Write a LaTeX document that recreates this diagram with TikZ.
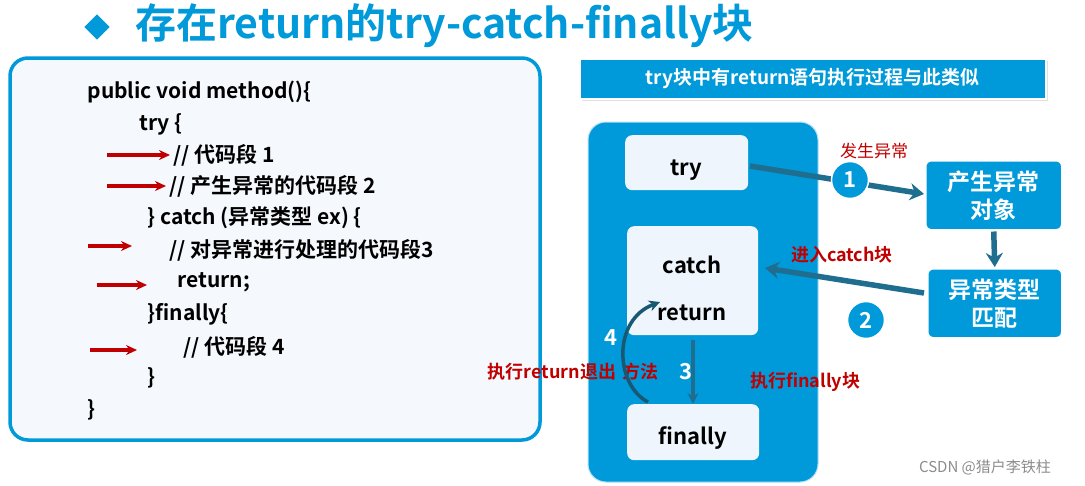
\documentclass[tikz,border=0pt]{standalone}
\usepackage{fontspec}
\setmainfont{Noto Sans CJK SC}[BoldFont={* Bold}]
\usetikzlibrary{arrows.meta}
\definecolor{bl}{HTML}{0099D9}
\definecolor{lb}{HTML}{EEF5FC}
\definecolor{dk}{HTML}{1F6E8F}
\definecolor{rd}{HTML}{C00000}
\begin{document}
\begin{tikzpicture}[x=1pt,y=-1pt,font=\bfseries,
 code/.style={anchor=west,font=\fontsize{21}{21}\selectfont\bfseries},
 rarr/.style={rd,line width=3.2pt,-{Stealth[length=11pt,width=10pt]}},
 inbox/.style={fill=lb,rounded corners=7pt,font=\fontsize{22}{22}\selectfont\bfseries},
 bbox/.style={fill=bl,draw=white,line width=2.5pt,rounded corners=6pt,text=white,align=center,font=\fontsize{23}{28}\selectfont\bfseries},
 num/.style={circle,fill=bl,draw=white,line width=1.5pt,text=white,minimum size=37pt,inner sep=0pt,font=\fontsize{22}{22}\selectfont\bfseries},
 rlab/.style={text=rd,font=\fontsize{18}{18}\selectfont\bfseries},
 barr/.style={dk,line width=5.5pt,-{Stealth[length=14pt,width=17pt]}}]
\useasboundingbox (0,0) rectangle (1085,485);
\fill[white] (0,0) rectangle (1085,485);
% title
\node[fill=bl,rotate=45,minimum size=18pt,inner sep=0pt] (dia) at (97,27) {};
\node[anchor=west,text=bl,font=\fontsize{41}{41}\selectfont\bfseries] (title) at (132,26) {存在return的try-catch-finally块};
% left box
\draw[bl,line width=3.5pt,fill=lb!60!white,rounded corners=18pt] (10,58) rectangle (540,440);
\node[code] (c1) at (84,92) {public void method()\{};
\node[code] (c2) at (136,124) {try \{};
\node[code] (c3) at (170,155) {// 代码段 1};
\node[code] (c4) at (166,186) {// 产生异常的代码段 2};
\node[code] (c5) at (144,218) {\} catch (异常类型 ex) \{};
\node[code] (c6) at (166,250) {// 对异常进行处理的代码段3};
\node[code] (c7) at (174,282) {return;};
\node[code] (c8) at (144,314) {\}finally\{};
\node[code] (c9) at (180,347) {// 代码段 4};
\node[code] (c10) at (144,378) {\}};
\node[code] (c11) at (84,410) {\}};
\coordinate (a1) at (107,155); \draw[rarr] (a1) -- (c3.west);
\coordinate (a2) at (107,186); \draw[rarr] (a2) -- (c4.west);
\coordinate (a3s) at (88,246); \coordinate (a3e) at (132,246); \draw[rarr] (a3s) -- (a3e);
\coordinate (a4s) at (97,285); \coordinate (a4e) at (147,285); \draw[rarr] (a4s) -- (a4e);
\coordinate (a5s) at (90,350); \coordinate (a5e) at (137,350); \draw[rarr] (a5s) -- (a5e);
% header bar
\fill[black!12] (582,61) rectangle (1048,101);
\node[fill=bl,draw=white,line width=1.5pt,minimum width=466pt,minimum height=40pt,anchor=north west,text=white,font=\fontsize{19}{19}\selectfont\bfseries] (hdr) at (579,58) {try块中有return语句执行过程与此类似};
% right container
\draw[bl!30,line width=1pt,fill=bl,rounded corners=18pt] (588,122) rectangle (818,482);
\node[inbox,minimum width=123pt,minimum height=55pt,anchor=north west] (try) at (625,135) {};
\node[font=\fontsize{22}{22}\selectfont\bfseries] (tt) at (686,170) {try};
\node[inbox,minimum width=131pt,minimum height=109pt,anchor=north west] (catch) at (627,226) {};
\node[font=\fontsize{22}{22}\selectfont\bfseries] (ct) at (692,265) {catch};
\node[font=\fontsize{22}{22}\selectfont\bfseries] (rt) at (692,313) {return};
\node[inbox,minimum width=132pt,minimum height=56pt,anchor=north west] (fin) at (627,404) {};
\node[font=\fontsize{22}{22}\selectfont\bfseries] (ft) at (693,438) {finally};
\node[bbox,minimum width=137pt,minimum height=70pt,anchor=north west] (obj) at (924,159) {产生异常\\对象};
\node[bbox,minimum width=135pt,minimum height=70pt,anchor=north west] (mat) at (926,267) {异常类型\\匹配};
% arrows
\coordinate (t1) at (750,166);
\draw[barr] (t1) -- (obj.west |- 0,194);
\draw[barr] (obj.south) -- (mat.north);
\coordinate (m1) at (924,293); \coordinate (ce) at (765,268);
\draw[barr] (m1) -- (ce);
\node[num] (n1) at (850,180) {1};
\node[num] (n2) at (866,320) {2};
\node[rlab,font=\fontsize{17}{17}\selectfont] (l1) at (874,151) {发生异常};
\node[rlab] (l2) at (842,255) {进入catch块};
\node[rlab] (l3) at (805,382) {执行finally块};
\node[rlab] (l4) at (573,372) {执行return退出\,\,方法};
\coordinate (d3s) at (693,340);
\draw[dk,line width=3.5pt,-{Stealth[length=11pt,width=11pt]}] (d3s) -- (fin.north -| d3s);
\node[text=white,font=\fontsize{22}{22}\selectfont\bfseries] (n3) at (686,372) {3};
\node[text=white,font=\fontsize{22}{22}\selectfont\bfseries] (n4) at (611,338) {4};
\coordinate (s4) at (648,402); \coordinate (e4) at (660,302);
\draw[dk!80!black,line width=3.5pt,-{Stealth[length=11pt,width=11pt]}] (s4) .. controls (615,385) and (612,320) .. (e4);
\node[text=black!45,font=\fontsize{15}{15}\selectfont] (wm) at (985,467) {CSDN @猎户李铁柱};
\end{tikzpicture}
\end{document}
